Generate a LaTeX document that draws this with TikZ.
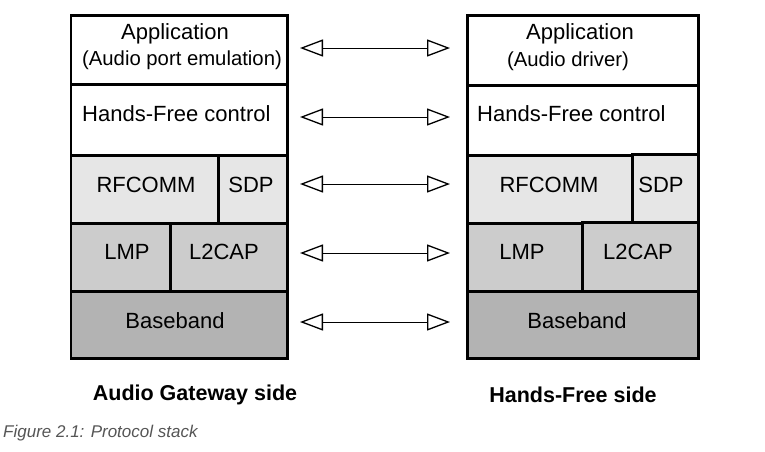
\documentclass[tikz,border=0pt]{standalone}
\usepackage{fontspec}
\setmainfont{Liberation Sans}
\usetikzlibrary{arrows.meta}
\definecolor{gA}{RGB}{230,230,230}
\definecolor{gB}{RGB}{204,204,204}
\definecolor{gC}{RGB}{179,179,179}
\definecolor{capgray}{RGB}{85,85,85}
\tikzset{
  box/.style={draw=black, line width=2.6pt, rectangle, inner sep=0pt, anchor=north west},
  lbl/.style={inner sep=0pt, font=\fontsize{22}{25}\selectfont},
  sub/.style={inner sep=0pt, font=\fontsize{20.3}{23}\selectfont},
  side/.style={inner sep=0pt, font=\fontsize{21.5}{24}\selectfont\bfseries},
  figcaption/.style={inner sep=0pt, anchor=west, text=capgray, font=\fontsize{17}{20}\selectfont\itshape},
  link/.style={line width=1pt, {Triangle[open,length=23pt,width=17pt,line width=1.3pt]}-{Triangle[open,length=23pt,width=17pt,line width=1.3pt]}}
}
\begin{document}
\begin{tikzpicture}[x=1pt,y=-1pt]
\useasboundingbox (0,0) rectangle (765,451);
% left stack
\node[box, fill=white, minimum width=216.5pt, minimum height=69pt] (lapp) at (69.5,14) {};
\node[box, fill=white, minimum width=216.5pt, minimum height=71pt] (lhf) at (69.5,83) {};
\node[box, fill=gA, minimum width=147.5pt, minimum height=68pt] (lrf) at (69.5,154) {};
\node[box, fill=gA, minimum width=69pt, minimum height=68pt] (lsdp) at (217,154) {};
\node[box, fill=gB, minimum width=99.5pt, minimum height=68pt] (llmp) at (69.5,222) {};
\node[box, fill=gB, minimum width=117pt, minimum height=68pt] (ll2) at (169,222) {};
\node[box, fill=gC, minimum width=216.5pt, minimum height=67pt] (lbb) at (69.5,290) {};
% right stack
\node[box, fill=white, minimum width=231pt, minimum height=70pt] (rapp) at (466,14) {};
\node[box, fill=white, minimum width=231pt, minimum height=70pt] (rhf) at (466,84) {};
\node[box, fill=gA, minimum width=165pt, minimum height=68pt] (rrf) at (466,154) {};
\node[box, fill=gA, minimum width=66pt, minimum height=69pt] (rsdp) at (631,153) {};
\node[box, fill=gB, minimum width=115pt, minimum height=68pt] (rlmp) at (466,222) {};
\node[box, fill=gB, minimum width=116pt, minimum height=69pt] (rl2) at (581,221) {};
\node[box, fill=gC, minimum width=231pt, minimum height=67pt] (rbb) at (466,290) {};
% left texts
\node[lbl] (tlapp) at (175,34) {Application};
\node[sub] (tlsub) at (182,60) {(Audio port emulation)};
\node[lbl, anchor=west] (tlhf) at (82,114) {Hands-Free control};
\node[lbl] (tlrf) at (146,185) {RFCOMM};
\node[lbl] (tlsdp) at (251,185) {SDP};
\node[lbl] (tllmp) at (127,252) {LMP};
\node[lbl] (tll2) at (224,252) {L2CAP};
\node[lbl] (tlbb) at (175,321) {Baseband};
% right texts
\node[lbl] (trapp) at (580,34) {Application};
\node[sub] (trsub) at (568,61) {(Audio driver)};
\node[lbl, anchor=west] (trhf) at (477,114) {Hands-Free control};
\node[lbl] (trrf) at (549,185) {RFCOMM};
\node[lbl] (trsdp) at (661,185) {SDP};
\node[lbl] (trlmp) at (522,252) {LMP};
\node[lbl] (trl2) at (638,252) {L2CAP};
\node[lbl] (trbb) at (577,321) {Baseband};
% arrows
\coordinate (a1l) at (300,48);  \coordinate (a1r) at (450,48);
\coordinate (a2l) at (300,117); \coordinate (a2r) at (450,117);
\coordinate (a3l) at (300,184); \coordinate (a3r) at (450,184);
\coordinate (a4l) at (300,253); \coordinate (a4r) at (450,253);
\coordinate (a5l) at (300,322); \coordinate (a5r) at (450,322);
\draw[link] (a1l) -- (a1r);
\draw[link] (a2l) -- (a2r);
\draw[link] (a3l) -- (a3r);
\draw[link] (a4l) -- (a4r);
\draw[link] (a5l) -- (a5r);
% labels
\node[side] (agside) at (195,395) {Audio Gateway side};
\node[side] (hfside) at (573,395) {Hands-Free side};
\node[figcaption] (caption) at (3,433) {Figure 2.1: Protocol stack};
\end{tikzpicture}
\end{document}
